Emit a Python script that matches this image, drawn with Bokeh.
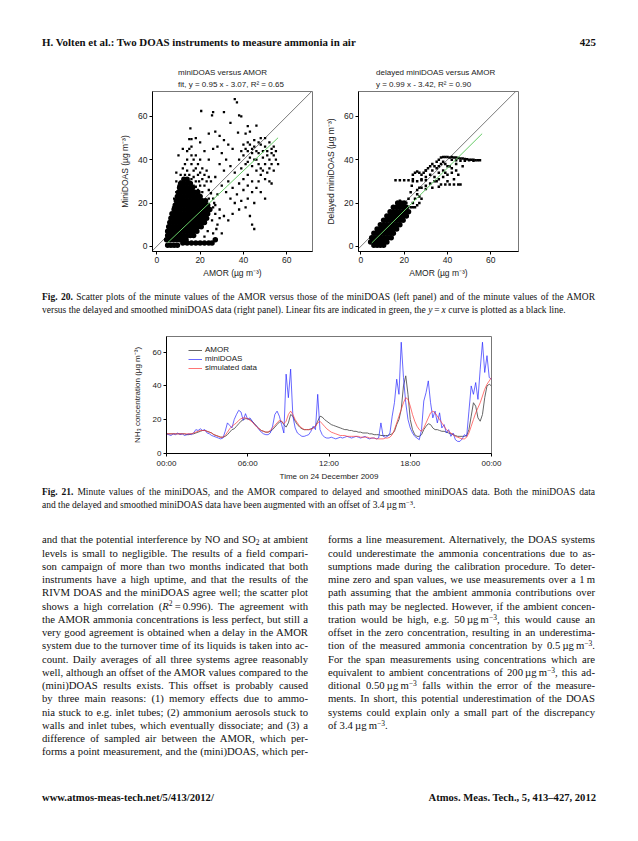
from bokeh.plotting import figure
from bokeh.layouts import column, row
from bokeh.models import Div, Range1d, FixedTicker, Legend, LegendItem
from bokeh.embed import file_html
from bokeh.resources import INLINE

# ---------------- data: Fig. 21 time series (10-minute values, hours 0..24) ----------------
minidoas = [
    11.5, 11, 10.5, 11.5, 11, 12,
    11, 11.5, 10.5, 11, 11.5, 11,
    12, 14, 13.5, 14.5, 13.5, 14,
    12, 11.5, 10.5, 10, 9.5, 9,
    8.5, 9, 13, 18, 16.5, 15,
    20, 23, 25.5, 24.5, 19.5, 23.5,
    20, 21, 19, 17, 16, 14,
    12.5, 11.5, 11, 11, 12, 16,
    23, 25, 22, 17, 12, 47,
    33, 50, 22, 15, 12, 11,
    10, 10, 10.5, 11, 13, 16,
    14, 35, 14, 11, 9.5, 9,
    9, 9.5, 9, 8.5, 9, 9.5,
    9, 9.5, 10, 9.5, 9, 9.5,
    10, 9.5, 9, 9.5, 10, 9,
    8.5, 9, 9, 8.5, 9, 18,
    10, 9.5, 10, 12, 22, 30,
    44, 35, 66, 45, 30, 20,
    15, 12, 10, 9, 8, 14,
    31, 36, 43, 30, 21, 25,
    18, 24, 15, 17, 12, 14,
    10, 12, 8, 7, 7, 8.5,
    11, 10, 25, 40, 35, 42,
    32, 50, 66, 48, 58, 45,
    44]
amor = [
    11.5, 11.5, 11.5, 11.5, 11.5, 11.5,
    11.5, 11.5, 11.5, 11, 11, 11.5,
    11.5, 12, 12.5, 13, 13.5, 13.5,
    13, 12.5, 12, 11, 10.5, 10,
    9.5, 9.5, 10, 11, 12.5, 14,
    14.5, 16, 17.5, 19, 20, 20.5,
    20.5, 20, 19, 17.5, 16, 14.5,
    13.5, 13, 12.5, 12.5, 13, 14,
    15.5, 17, 18.5, 19, 17, 15.5,
    18, 23, 22, 19, 17, 15.5,
    14.5, 14, 14, 14, 14.5, 15,
    16, 19, 22, 21.5, 20, 19,
    18, 17, 16.5, 16, 15.5, 15,
    14.5, 14, 14, 13.5, 13.5, 13,
    13, 12.5, 12.5, 12, 12, 12,
    11.5, 11.5, 11, 11, 11, 10.5,
    10.5, 10.5, 10.5, 11, 11.5, 13,
    17, 20, 26, 40, 46, 35,
    20, 14, 11, 10, 10, 11,
    14, 16, 17.5, 17, 15, 14,
    14, 13.5, 13, 13, 12.5, 12,
    11.5, 11, 10.5, 10, 10, 10,
    10, 10.5, 14, 22, 30, 28,
    21, 19, 23, 33, 40, 41,
    40]
simulated = [
    11.5, 11.5, 11.5, 11.5, 11.5, 11.5,
    11.5, 11.5, 11.5, 11.5, 11.5, 11.5,
    12, 12.5, 13, 13.5, 13.5, 13.5,
    13, 12.5, 12, 11, 10.5, 10,
    9.5, 9.5, 10.5, 12.5, 14.5, 16,
    17, 18, 19.5, 20.5, 21, 21,
    20.5, 19.5, 18.5, 17, 15.5, 14.5,
    13.5, 13, 12.5, 12.5, 13.5, 15,
    16.5, 18, 19.5, 19, 17.5, 19,
    23, 25, 23, 20, 18, 16,
    15, 14, 14, 14, 14, 15,
    16, 18, 19, 17.5, 16, 14.5,
    13.5, 12.5, 12, 11.5, 11, 10.5,
    10.5, 10.5, 10, 10, 10, 10,
    10, 10, 9.5, 9.5, 9.5, 9.5,
    9, 9, 9, 8.5, 8.5, 8.5,
    8.5, 9, 9, 9.5, 11, 14,
    18, 22, 26, 30, 33, 32,
    28, 23, 19, 16, 14, 13,
    15, 18, 21, 24, 25, 24,
    22, 20, 18, 16, 14, 13,
    12, 11, 10, 9.5, 9, 8.5,
    8.5, 9.5, 12, 16, 20, 24,
    27, 30, 34, 38, 41, 43,
    45]
ts_hours = [i / 6 for i in range(len(minidoas))]
ts_ticks = [0, 6, 12, 18, 24]
ts_tick_labels = ["00:00", "06:00", "12:00", "18:00", "00:00"]

# ---------------- data: Fig. 20 left panel (AMOR, miniDOAS) ----------------
left_sparse = [
    (36, 68), (37, 66.5), (20.5, 62.5), (26, 62), (25.5, 60.5), (31, 62), (34, 57), (38, 60.5),
    (39, 60), (42, 55.5), (15.5, 54.5), (15, 49.5), (16, 49.5), (27, 53), (24, 52), (37.5, 52.5),
    (41, 52), (43, 53), (46, 55.7), (45, 49), (50, 50), (48, 47), (52, 48), (53, 45), (51, 44),
    (54, 42), (55, 40), (56, 38), (52, 36), (49, 41), (47, 43), (44, 45), (42, 44), (40, 42),
    (38, 40), (43, 41), (45, 40), (47, 38), (41, 38), (39, 36), (44, 37), (46, 35), (48, 33),
    (50, 31), (52, 30), (53, 29), (42, 33), (40, 31), (38, 29), (36, 34), (34, 37), (32, 40),
    (30, 43), (28, 46), (26, 45), (24, 40), (22, 44), (20, 40), (18, 42), (16, 38), (14, 40),
    (12, 36), (13, 33), (15, 30), (17, 35), (19, 33), (21, 31), (23, 35), (25, 30), (27, 32),
    (29, 38), (31, 35), (33, 30), (35, 27), (37, 24), (39, 21), (41, 18), (43, 14), (44, 10),
    (45, 8), (42, 22), (40, 26), (38, 17), (36, 20), (34, 22), (32, 25), (30, 28), (28, 24),
    (26, 22), (24, 26), (22, 28), (19, 26), (17, 28), (14, 27), (46, 27), (48, 25), (50, 22),
    (44, 30), (35, 45), (33, 47), (31, 49), (29, 51), (20, 48), (18, 50), (12, 45), (10, 42),
    (11, 30), (9, 34), (44, 25), (45, 20), (31, 14), (33, 12), (35, 15), (29, 17), (27, 19),
    (42, 28), (47, 30), (52, 40), (50, 46), (48, 50), (42, 48), (46, 44),
    (15, 45), (16, 42), (14, 35), (15, 33), (16, 31), (13, 38), (17, 32), (18, 30), (11, 33),
    (12, 30), (10, 28), (9, 30), (14, 44), (16, 46), (17, 40), (19, 38), (21, 36), (20, 34),
    (22, 33), (23, 30), (24, 32), (18, 36), (41, 45), (43, 47), (45, 46), (47, 48), (49, 44),
    (51, 42), (53, 43), (50, 38), (48, 36), (46, 40), (44, 43), (40, 47), (39, 44), (42, 39),
    (54, 46), (55, 44), (53, 38), (49, 35), (51, 34), (54, 35),
    (24, 22), (26, 18), (27, 15), (25.5, 12), (28, 10), (23.5, 7), (26, 6), (22, 4.5),
    (18, 27.5), (20, 28), (21, 25), (9, 25), (8, 22), (7.5, 18), (26.5, 20), (25, 24.5),
    (29, 13), (30, 6), (27.5, 8), (19.5, 30)]
# dense core of the left cloud, row by row: (miniDOAS value, AMOR positions along the row)
left_dense_rows = [
    (0.5, [5, 6.5, 8, 9.5]),
    (1.5, [12, 14, 16, 18, 20, 22, 24, 25.5]),
    (3, [4.5, 6, 7.5, 9, 10.5, 12, 13.5, 27]),
    (5, [5, 6.5, 8, 9.5, 11, 12.5, 14, 15.5, 17]),
    (7, [5, 6.5, 8, 9.5, 11, 12.5, 14, 15.5, 17, 18.5]),
    (9, [5.5, 7, 8.5, 10, 11.5, 13, 14.5, 16, 17.5, 19, 20.5]),
    (11, [6, 7.5, 9, 10.5, 12, 13.5, 15, 16.5, 18, 19.5, 21, 22]),
    (13, [6.5, 8, 9.5, 11, 12.5, 14, 15.5, 17, 18.5, 20, 21.5, 23]),
    (15, [7, 8.5, 10, 11.5, 13, 14.5, 16, 17.5, 19, 20.5, 22, 23.5]),
    (17, [8, 9.5, 11, 12.5, 14, 15.5, 17, 18.5, 20, 21.5, 23, 24.5]),
    (19, [8.5, 10, 11.5, 13, 14.5, 16, 17.5, 19, 20.5, 22, 23.5]),
    (21, [9, 10.5, 12, 13.5, 15, 16.5, 18, 19.5, 21, 22.5]),
    (23, [9.5, 11, 12.5, 14, 15.5, 17, 18.5, 20]),
    (25, [10, 11.5, 13, 14.5, 16, 17.5, 19]),
    (27, [10.5, 12, 13.5, 15, 16.5]),
    (29, [11, 12.5, 14, 15.5]),
    (31, [12.5, 14])]
left_fit = (0.95, -3.07)
left_fit_range = [5, 56]

# ---------------- data: Fig. 20 right panel (AMOR, delayed miniDOAS) ----------------
right_dense_rows = [
    (0.5, [6, 7.5, 9, 10.5]),
    (2, [4.5, 6, 7.5, 9, 10.5, 12]),
    (4, [5, 6.5, 8, 9.5, 11, 12.5, 14]),
    (6, [6, 7.5, 9, 10.5, 12, 13.5, 15]),
    (8, [7.5, 9, 10.5, 12, 13.5, 15, 16.5]),
    (10, [9, 10.5, 12, 13.5, 15, 16.5, 18]),
    (12, [10.5, 12, 13.5, 15, 16.5, 18, 19.5]),
    (14, [12, 13.5, 15, 16.5, 18, 19.5, 21]),
    (16, [13.5, 15, 16.5, 18, 19.5, 21, 22]),
    (18, [15, 16.5, 18, 19.5, 21]),
    (20, [17, 18.5, 20])]
right_trails = [
    (17.5, 10), (17.5, 12), (17.5, 14), (17.5, 16), (17.5, 18), (17.5, 20), (18, 21),
    (20, 18), (21, 20), (22, 22), (23, 25), (23.5, 28), (24, 31), (24, 33), (25, 34), (26, 34.5),
    (27, 34), (28, 33), (29, 34), (30, 35),
    (22, 16), (23, 18), (24, 20), (25, 22), (26, 24), (27, 23), (28, 22), (27, 20), (26, 19),
    (25, 18), (24, 18),
    (16, 30.5), (18, 30.5), (20, 30.5), (22, 30.5), (24, 30), (26, 30), (28, 30.5), (30, 30.5),
    (26, 26), (28, 27), (30, 28), (32, 29), (34, 30), (36, 31), (38, 32), (40, 33), (42, 34), (44, 35),
    (37, 28.5), (39, 28.5), (41, 28.5), (43, 28.5), (45, 28.5), (46, 28.5),
    (27, 27), (30, 26.5), (33, 27), (36, 27.5),
    (30, 35), (31, 36), (32, 37), (33, 38), (34, 37), (35, 36), (36, 37), (37, 38), (38, 39),
    (39, 38), (40, 37), (35, 39), (33, 35), (36, 34), (38, 35),
    (36, 40), (37, 41), (38, 41.2), (39, 41.3), (40, 41.3), (41, 41), (42, 41.3), (43, 41),
    (44, 41), (45, 40.8), (46, 40.5), (47, 40.5), (48, 40.3), (49, 40.2), (50, 40), (51, 40),
    (52, 40), (53, 39.8), (54, 39.7),
    (42, 40), (44, 39.8), (46, 39.5), (48, 39.5), (50, 39.8), (52, 39.5), (55, 39.7),
    (30, 32), (32, 33), (34, 32), (28, 31), (35, 30), (40, 30), (43, 31), (45, 33), (47, 37),
    (44, 38), (42, 36), (39, 34), (41, 37)]
right_fit = (0.99, -3.42)
right_fit_range = [5, 56]
diag = [-5, 80]
scatter_ticks = [0, 20, 40, 60]

SANS = "Liberation Sans"
SERIF = "'Liberation Serif', 'Times New Roman', serif"
GREEN = "#66cc66"


def unroll(rows):
    xs, ys = [], []
    for yv, xlist in rows:
        for xv in xlist:
            xs.append(xv)
            ys.append(yv)
    return xs, ys


def style(p, tick_size, label_size):
    for ax in (p.xaxis, p.yaxis):
        ax.axis_line_color = "black"
        ax.major_tick_line_color = "black"
        ax.minor_tick_line_color = None
        ax.major_tick_out = 3
        ax.major_tick_in = 0
        ax.major_label_text_font = SANS
        ax.major_label_text_font_size = tick_size
        ax.major_label_text_color = "#222222"
        ax.axis_label_text_font = SANS
        ax.axis_label_text_font_size = label_size
        ax.axis_label_text_font_style = "normal"
        ax.axis_label_text_color = "#222222"
        ax.major_label_standoff = 2
    p.xgrid.visible = False
    p.ygrid.visible = False
    p.outline_line_color = "#777777"
    p.border_fill_color = None
    p.background_fill_color = "white"


def legend_panel(width, x_off, lab1, lab2, marker_size):
    lf = figure(width=width, height=30, x_range=Range1d(0, 1), y_range=Range1d(0, 1),
                output_backend="svg", toolbar_location=None, min_border=0,
                x_axis_type=None, y_axis_type=None, margin=0)
    lf.outline_line_color = None
    lf.xgrid.visible = False
    lf.ygrid.visible = False
    lf.background_fill_color = None
    lf.border_fill_color = None
    r1 = lf.scatter(x=[], y=[], marker="square", size=marker_size, fill_color="black", line_color=None)
    r2 = lf.line(x=[], y=[], line_color=GREEN, line_width=1)
    lf.add_layout(Legend(items=[LegendItem(label=lab1, renderers=[r1]),
                                LegendItem(label=lab2, renderers=[r2])],
                         location=(x_off, 0), orientation="vertical", margin=0, padding=0,
                         spacing=0, glyph_width=15, glyph_height=12, label_height=12,
                         label_standoff=3, label_text_font=SANS, label_text_font_size="8px",
                         label_text_color="#222222", border_line_color=None,
                         background_fill_alpha=0))
    return lf


def scatter_panel(width, bl, br, xr, yr, ylabel, dense, sparse, fit, fit_rng, dense_size, sparse_size):
    p = figure(width=width, height=195, x_range=Range1d(*xr), y_range=Range1d(*yr),
               output_backend="svg", toolbar_location=None, min_border_left=bl,
               min_border_right=br, min_border_top=1, min_border_bottom=34, margin=0)
    style(p, "8.5px", "8.5px")
    p.xaxis.ticker = FixedTicker(ticks=scatter_ticks)
    p.yaxis.ticker = FixedTicker(ticks=scatter_ticks)
    p.xaxis.axis_label = "AMOR (µg m⁻³)"
    p.yaxis.axis_label = ylabel
    p.xaxis.axis_label_standoff = 2
    p.yaxis.axis_label_standoff = 5
    p.line(diag, diag, line_color="#7a7a7a", line_width=1)
    dx, dy = dense
    p.scatter(dx, dy, marker="circle", size=dense_size, fill_color="black", line_color=None)
    p.scatter([d[0] for d in sparse], [d[1] for d in sparse], marker="square", size=sparse_size,
              fill_color="black", line_color=None)
    fx = fit_rng
    fy = [fit[0] * v + fit[1] for v in fx]
    p.line(fx, fy, line_color=GREEN, line_width=1)
    return p


leg_left = legend_panel(318, 8, "miniDOAS versus AMOR", "fit, y = 0.95 x - 3.07, R² = 0.65", 2.5)
leg_right = legend_panel(320, 0, "delayed miniDOAS versus AMOR", "y = 0.99 x - 3.42, R² = 0.90", 2.5)
p_left = scatter_panel(318, 152, 6, (-2.0, 71.9), (-2.4, 71.5), "MiniDOAS (µg m⁻³)",
                       unroll(left_dense_rows), left_sparse, left_fit, left_fit_range, 5.5, 2.3)
p_right = scatter_panel(320, 40, 120, (-1.1, 72.8), (-2.4, 71.5), "Delayed miniDOAS (µg m⁻³)",
                        unroll(right_dense_rows), right_trails, right_fit, right_fit_range, 5.5, 2.5)

# ---------------- time series figure ----------------
p_ts = figure(width=638, height=150, x_range=Range1d(0, 24), y_range=Range1d(-0.2, 69.4),
              output_backend="svg", toolbar_location=None, min_border_left=166,
              min_border_right=147, min_border_top=3, min_border_bottom=29, margin=0)
style(p_ts, "8px", "8px")
p_ts.xaxis.ticker = FixedTicker(ticks=ts_ticks)
p_ts.xaxis.major_label_overrides = {t: s for t, s in zip(ts_ticks, ts_tick_labels)}
p_ts.yaxis.ticker = FixedTicker(ticks=[0, 20, 40, 60])
p_ts.xaxis.axis_label = "Time on 24 December 2009"
p_ts.yaxis.axis_label = "NH₃ concentration (µg m⁻³)"
p_ts.xaxis.axis_label_standoff = 1
p_ts.yaxis.axis_label_standoff = 8
ra = p_ts.line(ts_hours, amor, line_color="#555555", line_width=0.9)
rb = p_ts.line(ts_hours, minidoas, line_color="#2a2aff", line_alpha=0.7, line_width=1)
rr = p_ts.line(ts_hours, simulated, line_color="#ff3b3b", line_alpha=0.7, line_width=1)
leg_ts = Legend(items=[LegendItem(label="AMOR", renderers=[ra]),
                       LegendItem(label="miniDOAS", renderers=[rb]),
                       LegendItem(label="simulated data", renderers=[rr])],
                location=(22, 81), margin=0, padding=0, spacing=0, glyph_width=14, glyph_height=8,
                label_height=8, label_standoff=3, label_text_font=SANS, label_text_font_size="8px",
                label_text_color="#222222", border_line_color=None, background_fill_alpha=0)
p_ts.add_layout(leg_ts)

# ---------------- page texts ----------------
SUP = lambda s: f'<span style="font-size:0.7em;position:relative;top:-0.45em">{s}</span>'
SUB = lambda s: f'<span style="font-size:0.7em;position:relative;top:0.25em">{s}</span>'
UGM3 = "&thinsp;µg&thinsp;m" + SUP("−3")

header_title = "H. Volten et al.: Two DOAS instruments to measure ammonia in air"
header_page = "425"
caption20 = [
    "<b>Fig. 20.</b> Scatter plots of the minute values of the AMOR versus those of the miniDOAS (left panel) and of the minute values of the AMOR",
    "versus the delayed and smoothed miniDOAS data (right panel). Linear fits are indicated in green, the <i>y</i>&thinsp;=&thinsp;<i>x</i> curve is plotted as a black line."]
caption21 = [
    "<b>Fig. 21.</b> Minute values of the miniDOAS, and the AMOR compared to delayed and smoothed miniDOAS data. Both the miniDOAS data",
    "and the delayed and smoothed miniDOAS data have been augmented with an offset of 3.4" + UGM3 + "."]
left_column = [
    "and that the potential interference by NO and SO" + SUB("2") + " at ambient",
    "levels is small to negligible. The results of a field compari-",
    "son campaign of more than two months indicated that both",
    "instruments have a high uptime, and that the results of the",
    "RIVM DOAS and the miniDOAS agree well; the scatter plot",
    "shows a high correlation (<i>R</i>" + SUP("2") + "&thinsp;=&thinsp;0.996). The agreement with",
    "the AMOR ammonia concentrations is less perfect, but still a",
    "very good agreement is obtained when a delay in the AMOR",
    "system due to the turnover time of its liquids is taken into ac-",
    "count. Daily averages of all three systems agree reasonably",
    "well, although an offset of the AMOR values compared to the",
    "(mini)DOAS results exists. This offset is probably caused",
    "by three main reasons: (1) memory effects due to ammo-",
    "nia stuck to e.g. inlet tubes; (2) ammonium aerosols stuck to",
    "walls and inlet tubes, which eventually dissociate; and (3) a",
    "difference of sampled air between the AMOR, which per-",
    "forms a point measurement, and the (mini)DOAS, which per-"]
right_column = [
    "forms a line measurement. Alternatively, the DOAS systems",
    "could underestimate the ammonia concentrations due to as-",
    "sumptions made during the calibration procedure. To deter-",
    "mine zero and span values, we use measurements over a 1&thinsp;m",
    "path assuming that the ambient ammonia contributions over",
    "this path may be neglected. However, if the ambient concen-",
    "tration would be high, e.g. 50" + UGM3 + ", this would cause an",
    "offset in the zero concentration, resulting in an underestima-",
    "tion of the measured ammonia concentration by 0.5" + UGM3 + ".",
    "For the span measurements using concentrations which are",
    "equivalent to ambient concentrations of 200" + UGM3 + ", this ad-",
    "ditional 0.50" + UGM3 + " falls within the error of the measure-",
    "ments. In short, this potential underestimation of the DOAS",
    "systems could explain only a small part of the discrepancy",
    "of 3.4" + UGM3 + "."]
footer_left = "www.atmos-meas-tech.net/5/413/2012/"
footer_right = "Atmos. Meas. Tech., 5, 413–427, 2012"

PAGE_W = 638


def line_div(text, left, top, width, justify=True):
    al = "text-align:justify;text-align-last:justify;" if justify else "text-align:left;"
    return (f'<div style="position:absolute;left:{left}px;top:{top}px;width:{width}px;'
            f'white-space:nowrap;{al}">{text}</div>')


def band(height, inner, font_size, line_height, weight="normal"):
    html = (f'<div style="position:relative;width:{PAGE_W}px;height:{height}px;font-family:{SERIF};'
            f'font-size:{font_size}px;line-height:{line_height}px;font-weight:{weight};color:#111">'
            + "".join(inner) + "</div>")
    return Div(text=html, width=PAGE_W, height=height, margin=0)


header = band(60, [line_div(header_title, 42, 35.5, 420, False),
                   f'<div style="position:absolute;right:42px;top:35.5px">{header_page}</div>'],
              10.9, 13, "bold")
cap20 = band(48, [line_div(t, 42, 5.5 + 13 * i, 553, i == 0) for i, t in enumerate(caption20)], 9.5, 13)
cap21 = band(42, [line_div(t, 42, 2.5 + 13 * i, 553, i == 0) for i, t in enumerate(caption21)], 9.5, 13)
body_items = [line_div(t, 42, 8.4 + 13.25 * i, 266, True) for i, t in enumerate(left_column)]
body_items += [line_div(t, 328, 8.4 + 13.25 * i, 267, i < len(right_column) - 1)
               for i, t in enumerate(right_column)]
body = band(245, body_items, 10.7, 13.25)
footer = band(71, [line_div(footer_left, 42, 20.5, 300, False),
                   f'<div style="position:absolute;right:42px;top:20.5px">{footer_right}</div>'],
              10.6, 13, "bold")

scatter_row = row(column(leg_left, p_left, spacing=0), column(leg_right, p_right, spacing=0), spacing=0)
page = column(header, scatter_row, cap20, p_ts, cap21, body, footer, spacing=0)
open("out.html", "w").write(file_html(page, INLINE))
